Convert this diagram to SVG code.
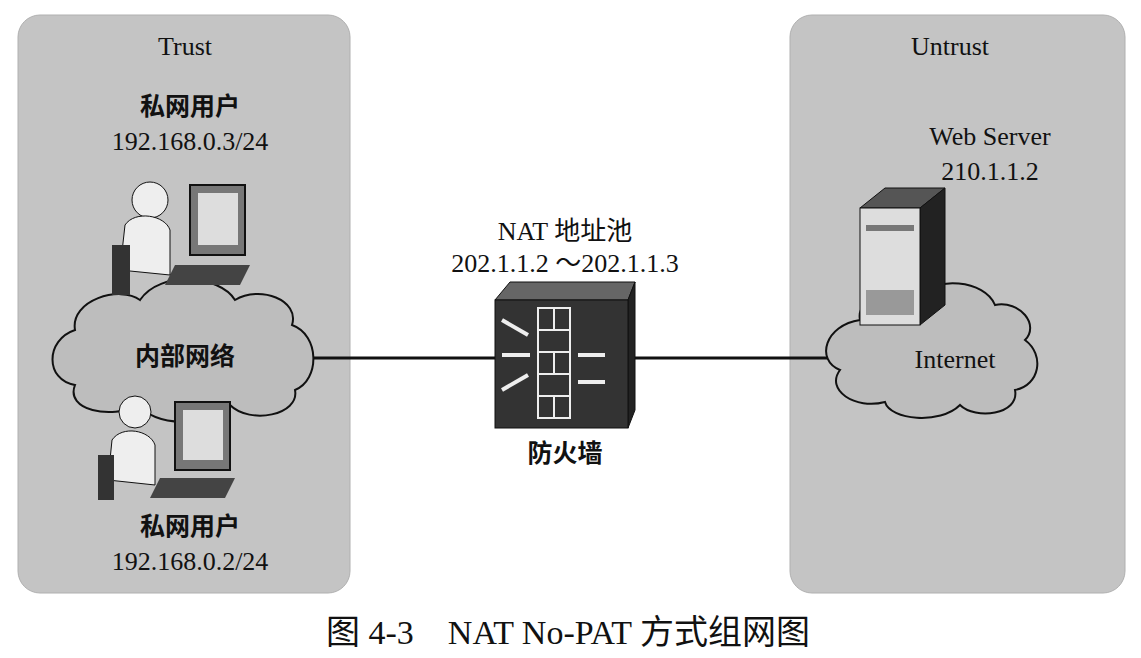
<svg xmlns="http://www.w3.org/2000/svg" width="1141" height="658" viewBox="0 0 1141 658">
<style>
.zone{fill:#c4c4c4;stroke:#b0b0b0;stroke-width:1}
.t{font-family:"Liberation Serif","Noto Sans CJK SC",serif;font-size:26px;fill:#111;text-anchor:middle}
.b{font-family:"Liberation Sans","Noto Sans CJK SC",sans-serif;font-weight:bold;font-size:25px;fill:#111;text-anchor:middle}
.cloud{fill:#bdbdbd;stroke:#111;stroke-width:2}
.ln{stroke:#111;stroke-width:3}
</style>
<rect width="1141" height="658" fill="#fff"/>
<g id="trust"><rect class="zone" x="18" y="15" width="332" height="578" rx="22"/><text class="t" x="185" y="55">Trust</text></g>
<g id="untrust"><rect class="zone" x="790" y="15" width="335" height="578" rx="22"/><text class="t" x="950" y="55">Untrust</text></g>
<g id="connectors"><line class="ln" x1="312" y1="358" x2="495" y2="358"/><line class="ln" x1="632" y1="358" x2="832" y2="358"/></g>
<g id="cloud-left"><path class="cloud" d="M75,330 C70,300 120,285 140,300 C160,270 220,275 235,300 C260,285 300,300 292,325 C320,335 320,380 295,390 C300,415 250,425 230,405 C210,430 150,425 140,405 C110,420 65,410 75,385 C45,380 45,340 75,330Z"/><text class="b" x="185" y="365">内部网络</text></g>
<g id="user1"><text class="b" x="190" y="115">私网用户</text><text class="t" x="190" y="150">192.168.0.3/24</text>
<rect x="190" y="185" width="55" height="70" fill="#777" stroke="#111" stroke-width="2"/><rect x="198" y="193" width="40" height="52" fill="#ddd"/>
<path d="M175,265 L250,265 L240,285 L165,285Z" fill="#444"/><circle cx="150" cy="200" r="18" fill="#eee" stroke="#111"/><path d="M120,270 L125,225 C135,210 165,215 170,230 L170,275Z" fill="#eee" stroke="#111"/><rect x="112" y="245" width="18" height="50" fill="#333"/></g>
<g id="user2"><rect x="175" y="402" width="55" height="68" fill="#777" stroke="#111" stroke-width="2"/><rect x="183" y="410" width="40" height="50" fill="#ddd"/>
<path d="M160,478 L235,478 L225,498 L150,498Z" fill="#444"/><circle cx="135" cy="412" r="16" fill="#eee" stroke="#111"/><path d="M108,480 L112,440 C122,425 150,430 155,445 L155,485Z" fill="#eee" stroke="#111"/><rect x="98" y="455" width="16" height="45" fill="#333"/>
<text class="b" x="190" y="535">私网用户</text><text class="t" x="190" y="570">192.168.0.2/24</text></g>
<g id="firewall"><text class="t" x="565" y="240">NAT 地址池</text><text class="t" x="565" y="272">202.1.1.2 ～202.1.1.3</text>
<path d="M495,300 L510,282 L635,282 L628,300Z" fill="#666" stroke="#111"/><path d="M628,300 L635,282 L635,410 L628,428Z" fill="#222" stroke="#111"/><rect x="495" y="300" width="133" height="128" fill="#333" stroke="#111"/>
<rect x="538" y="308" width="32" height="110" fill="none" stroke="#eee" stroke-width="2"/>
<g stroke="#eee" stroke-width="2"><line x1="538" y1="330" x2="570" y2="330"/><line x1="538" y1="352" x2="570" y2="352"/><line x1="538" y1="374" x2="570" y2="374"/><line x1="538" y1="396" x2="570" y2="396"/><line x1="554" y1="308" x2="554" y2="330"/><line x1="554" y1="352" x2="554" y2="374"/><line x1="554" y1="396" x2="554" y2="418"/></g>
<g stroke="#eee" stroke-width="4"><line x1="502" y1="320" x2="528" y2="335"/><line x1="502" y1="355" x2="530" y2="355"/><line x1="502" y1="390" x2="528" y2="375"/><line x1="578" y1="355" x2="605" y2="355"/><line x1="578" y1="382" x2="605" y2="382"/></g>
<text class="b" x="565" y="462">防火墙</text></g>
<g id="cloud-right"><path class="cloud" d="M860,320 C855,295 900,285 915,298 C935,275 985,280 995,305 C1020,300 1040,325 1025,340 C1045,355 1040,385 1015,390 C1020,415 975,420 960,405 C940,425 890,420 885,402 C855,410 825,390 840,370 C815,360 825,325 860,320Z"/><text class="t" x="955" y="368">Internet</text></g>
<g id="server"><text class="t" x="990" y="145">Web Server</text><text class="t" x="990" y="180">210.1.1.2</text>
<path d="M860,208 L885,188 L945,188 L920,208Z" fill="#555" stroke="#111"/><path d="M920,208 L945,188 L945,305 L920,325Z" fill="#222" stroke="#111"/><rect x="860" y="208" width="60" height="117" fill="#ddd" stroke="#111"/><rect x="866" y="225" width="48" height="6" fill="#777"/><rect x="866" y="290" width="48" height="25" fill="#999"/></g>
<text class="t" x="568" y="644" style="font-size:34px">图 4-3　NAT No-PAT 方式组网图</text>
</svg>
